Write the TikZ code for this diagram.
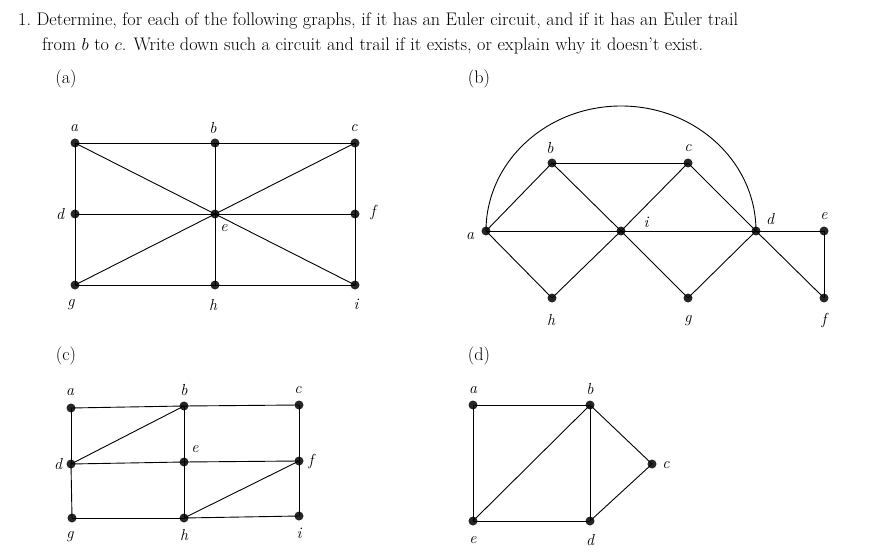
\documentclass[tikz,border=0pt]{standalone}
\usepackage{fontspec}
\begin{document}
\begin{tikzpicture}[x=1pt,y=-1pt,
  v/.style={circle,fill=black!85,inner sep=0pt,minimum size=9pt},
  lb/.style={font=\fontsize{16}{18}\selectfont\itshape},
  tx/.style={font=\fontsize{18.2}{20}\selectfont},
  e/.style={line width=0.9pt}]
\useasboundingbox (0,0) rectangle (888,553);
\node[anchor=base west,tx,inner sep=0pt] (t1) at (18,26) {1.\ Determine, for each of the following graphs, if it has an Euler circuit, and if it has an Euler trail};
\node[anchor=base west,tx,inner sep=0pt] (t2) at (42,51) {from $b$ to $c$. Write down such a circuit and trail if it exists, or explain why it doesn't exist.};
\node[tx] (la) at (66,79) {(a)};
\node[tx] (lb) at (479,79) {(b)};
\node[tx] (lc) at (66,356) {(c)};
\node[tx] (ld) at (479,356) {(d)};
% (a)
\node[v] (aa) at (75,143) {}; \node[v] (ab) at (215,143) {}; \node[v] (ac) at (355,143) {};
\node[v] (ad) at (75,214) {}; \node[v] (ae) at (215,214) {}; \node[v] (af) at (355,214) {};
\node[v] (ag) at (75,285) {}; \node[v] (ah) at (215,285) {}; \node[v] (ai) at (355,285) {};
\foreach \p/\q in {aa/ab,ab/ac,aa/ad,ad/ag,ac/af,af/ai,ag/ah,ah/ai,ab/ae,ae/ah,ad/ae,ae/af,aa/ae,ae/ai,ac/ae,ag/ae}
  \draw[e] (\p.center) -- (\q.center);
\node[lb] (Aa) at (74,128) {a}; \node[lb] (Ab) at (213,128) {b}; \node[lb] (Ac) at (354,128) {c};
\node[lb] (Ad) at (60,214) {d}; \node[lb] (Ae) at (224,228) {e}; \node[lb] (Af) at (373,213) {f};
\node[lb] (Ag) at (71,305) {g}; \node[lb] (Ah) at (213,305) {h}; \node[lb] (Ai) at (356,304) {i};
% (b)
\node[v] (ba) at (486,231) {}; \node[v] (bb) at (552,163) {}; \node[v] (bc) at (688,163) {};
\node[v] (bi) at (621,231) {}; \node[v] (bd) at (756,231) {}; \node[v] (be) at (824,231) {};
\node[v] (bh) at (552,298) {}; \node[v] (bg) at (688,298) {}; \node[v] (bf) at (824,298) {};
\foreach \p/\q in {ba/bb,bb/bc,bb/bi,bi/bc,bc/bd,ba/bh,bh/bi,bi/bg,bg/bd,ba/bi,bi/bd,bd/be,be/bf,bd/bf}
  \draw[e] (\p.center) -- (\q.center);
\draw[e] (ba.center) arc[start angle=180,end angle=0,x radius=135,y radius=-125];
\node[lb] (Ba) at (470,236) {a}; \node[lb] (Bb) at (550,148) {b}; \node[lb] (Bc) at (688,148) {c};
\node[lb] (Bi) at (646,222) {i}; \node[lb] (Bd) at (770,219) {d}; \node[lb] (Be) at (824,216) {e};
\node[lb] (Bh) at (551,320) {h}; \node[lb] (Bg) at (688,321) {g}; \node[lb] (Bf) at (824,320) {f};
% (c)
\node[v] (ca) at (71,408) {}; \node[v] (cb) at (184,406) {}; \node[v] (cc) at (299,405) {};
\node[v] (cd) at (71,464) {}; \node[v] (ce) at (184,462) {}; \node[v] (cf) at (299,461) {};
\node[v] (cg) at (72,518) {}; \node[v] (ch) at (184,518) {}; \node[v] (ci) at (299,516) {};
\foreach \p/\q in {ca/cb,cb/cc,ca/cd,cd/cg,cb/cd,cb/ce,ce/ch,cc/cf,cf/ci,cd/ce,ce/cf,cg/ch,ch/ci,ch/cf}
  \draw[e] (\p.center) -- (\q.center);
\node[lb] (Ca) at (70,392) {a}; \node[lb] (Cb) at (184,390) {b}; \node[lb] (Cc) at (298,390) {c};
\node[lb] (Cd) at (58,464) {d}; \node[lb] (Ce) at (195,449) {e}; \node[lb] (Cf) at (311,461) {f};
\node[lb] (Cg) at (70,537) {g}; \node[lb] (Ch) at (184,535) {h}; \node[lb] (Ci) at (299,533) {i};
% (d)
\node[v] (da) at (473,405) {}; \node[v] (db) at (590,405) {}; \node[v] (dc) at (652,464) {};
\node[v] (de) at (473,521) {}; \node[v] (dd) at (590,521) {};
\foreach \p/\q in {da/db,da/de,de/dd,db/dd,de/db,db/dc,dc/dd}
  \draw[e] (\p.center) -- (\q.center);
\node[lb] (Da) at (473,390) {a}; \node[lb] (Db) at (590,389) {b}; \node[lb] (Dc) at (666,465) {c};
\node[lb] (De) at (473,540) {e}; \node[lb] (Dd) at (590,540) {d};
\end{tikzpicture}
\end{document}
